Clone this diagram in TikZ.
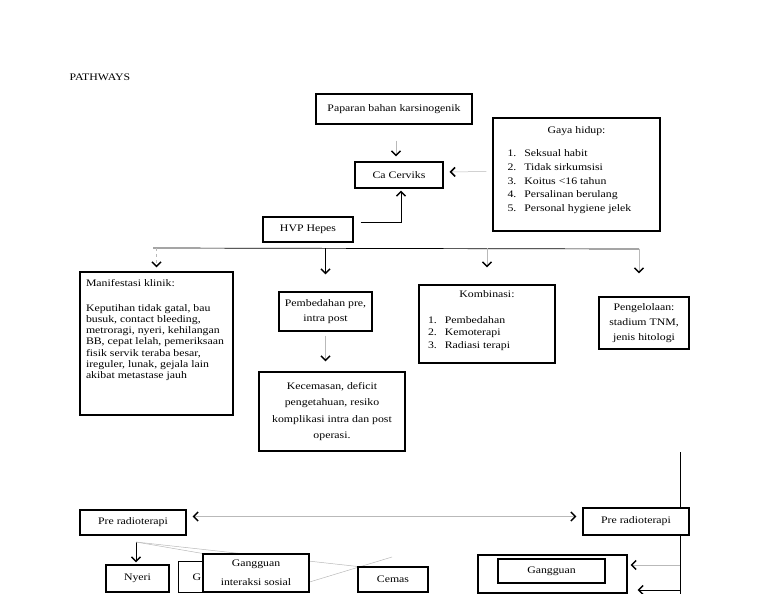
\documentclass[tikz,border=0pt]{standalone}
\usepackage{fontspec}
\setmainfont{Liberation Serif}[FakeStretch=1.18]
\usetikzlibrary{arrows.meta, backgrounds}

\begin{document}
\begin{tikzpicture}[x=1pt, y=-1pt,
        box/.style={draw, line width=1.1pt, fill=white, inner sep=0pt, align=center},
        thinline/.style={draw=gray!55, line width=0.5pt},
        >={Straight Barb[length=4.5pt, width=9pt, line width=1.5pt, color=black]}]
        \useasboundingbox (0,0) rectangle (768,594);
        % Title
        \node[anchor=west] (title) at (66,77) {PATHWAYS};

        % Causes
        \node[box, minimum width=156pt, minimum height=30pt] (paparan) at (394,109) {Paparan bahan karsinogenik};
        \node[box, minimum width=88pt, minimum height=26pt] (cerviks) at (399,175) {Ca Cerviks};
        \node[box, minimum width=90pt, minimum height=25pt] (hvp) at (308,229.5) {HVP Hepes};
        \node[box, minimum width=167pt, minimum height=113pt] (gaya) at (576.5,174.5) {%
            \begin{minipage}[t][95pt][t]{150pt}\fontsize{10}{13.7}\selectfont
            \centering Gaya hidup:\par\vspace{9pt}\raggedright
            \hspace*{6pt}\begin{tabular}[t]{@{}l@{\hspace{8pt}}l@{}}
            1. & Seksual habit\\ 2. & Tidak sirkumsisi\\ 3. & Koitus <16 tahun\\
            4. & Persalinan berulang\\ 5. & Personal hygiene jelek
            \end{tabular}
            \end{minipage}};

        % Branches
        \node[box, minimum width=153pt, minimum height=143pt] (manifestasi) at (156.5,343.5) {%
            \begin{minipage}[t][128pt][t]{141pt}\fontsize{10}{11.1}\selectfont\raggedright
            Manifestasi klinik:\par\vspace{14pt}
            Keputihan tidak gatal, bau\\ busuk, contact bleeding,\\ metroragi, nyeri, kehilangan\\
            BB, cepat lelah, pemeriksaan\\ fisik servik teraba besar,\\ ireguler, lunak, gejala lain\\
            akibat metastase jauh
            \end{minipage}};
        \node[box, minimum width=93pt, minimum height=39pt, font=\fontsize{10}{15}\selectfont] (pembedahan) at (325.5,311.5) {Pembedahan pre,\\ intra post};
        \node[box, minimum width=146pt, minimum height=79pt, font=\fontsize{10}{16.3}\selectfont] (kecemasan) at (332,411.5) {Kecemasan, deficit\\ pengetahuan, resiko\\ komplikasi intra dan post\\ operasi.};
        \node[box, minimum width=136pt, minimum height=78pt] (kombinasi) at (487,324) {%
            \begin{minipage}[t][66pt][t]{124pt}\fontsize{10}{12.5}\selectfont
            \centering Kombinasi:\par\vspace{13pt}\raggedright
            \hspace*{3pt}\begin{tabular}[t]{@{}l@{\hspace{8pt}}l@{}}
            1. & Pembedahan\\ 2. & Kemoterapi\\ 3. & Radiasi terapi
            \end{tabular}
            \end{minipage}};
        \node[box, minimum width=90pt, minimum height=52pt, font=\fontsize{10}{15.3}\selectfont] (pengelolaan) at (644,323) {Pengelolaan:\\ stadium TNM,\\ jenis hitologi};

        % Radiotherapy
        \node[box, minimum width=106pt, minimum height=25pt] (prekiri) at (133,522.5) {Pre radioterapi};
        \node[box, minimum width=106pt, minimum height=27pt] (prekanan) at (636,521.5) {Pre radioterapi};
        \node[box, minimum width=63pt, minimum height=27pt] (nyeri) at (137.5,578.5) {Nyeri};
        \node[box, anchor=north west, minimum height=31pt, text width=72pt, inner xsep=14pt, align=left] (gkiri) at (178,561) {G};
        \node[box, minimum width=106pt, minimum height=38pt, font=\fontsize{10}{19}\selectfont] (gsosial) at (256,573) {Gangguan\\ interaksi sosial};
        \node[box, minimum width=70pt, minimum height=25pt] (cemas) at (393,579.5) {Cemas};
        \node[box, minimum width=149pt, minimum height=38pt] (gkanan) at (552.5,574) {};
        \node[box, minimum width=107pt, minimum height=24pt] (gkanandalam) at (551.5,571) {Gangguan};

        \coordinate (busL) at (153,248);
        \coordinate (busR) at (639,249);
        \coordinate (split) at (136,542);
        \coordinate (cross) at (392,557);
        \coordinate (vtop) at (680,452);
        \coordinate (vbot) at (680,600);
        \coordinate (k1) at (680,565);
        \coordinate (k2) at (680,590);

        \begin{pgfonlayer}{background}
        \draw[thinline, ->, shorten <=16pt, shorten >=5pt] ([xshift=2pt]paparan.south) -- ([xshift=-3pt]cerviks.north);
        \draw[thinline, ->, shorten <=6pt, shorten >=6pt] ([yshift=3pt]gaya.west) -- ([yshift=3pt]cerviks.east);
        \draw[line width=0.6pt, ->] ([xshift=7pt,yshift=7pt]hvp.east) -| ([xshift=2pt,yshift=-2pt]cerviks.south);
        \draw[line width=0.7pt] (busL) -- (busR);
        \draw[thinline, dashed, ->, shorten >=4pt] (busL -| manifestasi) -- (manifestasi);
        \draw[line width=0.7pt, ->, shorten >=17pt] (busL -| pembedahan) -- (pembedahan);
        \draw[thinline, ->, shorten >=17pt] (busL -| kombinasi) -- (kombinasi);
        \draw[thinline, ->, shorten >=23pt] (busR) -- (busR |- pengelolaan.north);
        \draw[thinline, ->, shorten <=4pt, shorten >=10pt] (pembedahan.south) -- (pembedahan.south |- kecemasan.north);
        \draw[thinline, <->, shorten <=6pt, shorten >=6pt] ([yshift=6pt]prekiri.east) -- ([yshift=5pt]prekanan.west);
        \draw[line width=0.7pt, ->, shorten >=2pt] (split) -- (split |- nyeri.north);
        \draw[thinline] (split) -- (gsosial.north west);
        \draw[thinline] (split) -- (cemas.north west);
        \draw[thinline] ([yshift=-9pt]gsosial.east) -- (cross);
        \draw[line width=0.7pt] (vtop) -- (vbot);
        \draw[thinline, ->, shorten >=3pt] (k1) -- (k1 -| gkanan.east);
        \draw[line width=0.7pt, ->, shorten >=10pt] (k2) -- (k2 -| gkanan.east);
        \end{pgfonlayer}
    \end{tikzpicture}
\end{document}
